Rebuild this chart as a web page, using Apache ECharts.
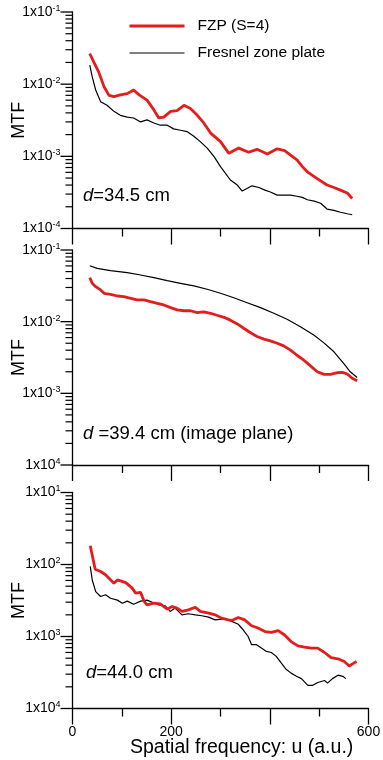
<!DOCTYPE html>
<html><head><meta charset="utf-8">
<script src="https://cdn.jsdelivr.net/npm/echarts@6/dist/echarts.min.js"></script>
<style>html,body{margin:0;padding:0;background:#fff}#c{width:383px;height:760px}</style>
</head><body><div id="c"></div>
<script>
// ---------- data ----------
const seriesNames = ['FZP (S=4)', 'Fresnel zone plate'];
const panelNotes = ['{i|d}=34.5 cm', '{i|d} =39.4 cm (image plane)', '{i|d}=44.0 cm'];
const xLabelValues = [0, 200, 600];
const yDecades = [1e-4, 1e-3, 1e-2, 1e-1];
const yExpPanel1 = ['-4', '-3', '-2', '-1'];
const yExpPanel2 = ['4', '-3', '-2', '-1'];
const yExpPanel3 = ['4', '3', '2', '1'];

// d = 34.5 cm
const fzpD345 = [[35,0.0266],[43,0.0204],[53,0.0148],[64,0.0092],[74,0.0070],[84,0.0067],[97,0.0071],[111,0.0074],[124,0.0083],[135,0.0071],[151,0.0060],[165,0.0044],[175,0.0034],[185,0.0035],[199,0.0042],[212,0.0043],[226,0.0051],[239,0.0046],[253,0.0037],[266,0.0029],[280,0.0021],[300,0.0016],[317,0.0011],[337,0.0013],[357,0.00114],[374,0.00125],[395,0.00108],[415,0.00127],[430,0.0012],[442,0.00104],[455,0.00089],[466,0.00072],[476,0.00061],[496,0.00049],[516,0.00040],[530,0.00037],[543,0.00034],[557,0.00031],[567,0.00026]];
const fresnelD345 = [[35,0.0183],[40,0.0126],[47,0.0083],[57,0.0057],[70,0.0051],[84,0.0042],[97,0.0037],[111,0.0035],[124,0.0034],[138,0.0030],[151,0.0032],[165,0.0029],[178,0.0027],[192,0.0027],[205,0.0024],[219,0.0023],[232,0.0022],[246,0.0019],[259,0.0016],[273,0.0013],[287,0.00099],[300,0.00072],[320,0.00047],[334,0.00040],[344,0.00033],[364,0.00039],[378,0.00037],[390,0.00034],[401,0.00032],[415,0.00029],[428,0.00029],[442,0.00029],[455,0.00028],[466,0.00027],[476,0.00025],[490,0.00024],[503,0.000224],[516,0.000186],[530,0.000178],[543,0.000168],[557,0.00016],[567,0.000155]];

// d = 39.4 cm (image plane)
const fzpD394 = [[35,0.0411],[40,0.0343],[47,0.0308],[57,0.0277],[64,0.0249],[77,0.0241],[91,0.0228],[104,0.0223],[118,0.0212],[131,0.0201],[145,0.0201],[158,0.0190],[172,0.0180],[185,0.0171],[199,0.0157],[212,0.0146],[226,0.0142],[239,0.0142],[253,0.0134],[266,0.0137],[280,0.0131],[293,0.0123],[307,0.0115],[320,0.0105],[334,0.0093],[347,0.0081],[361,0.0070],[374,0.0062],[388,0.0057],[401,0.0054],[415,0.0050],[428,0.0046],[442,0.0040],[455,0.0034],[469,0.0029],[483,0.0024],[496,0.0020],[510,0.00184],[523,0.00184],[537,0.00194],[547,0.00196],[557,0.00186],[567,0.00162],[577,0.00150]];
const fresnelD394 = [[35,0.0604],[50,0.0555],[77,0.0515],[111,0.0483],[138,0.0448],[165,0.0411],[192,0.0373],[219,0.0343],[246,0.0315],[273,0.0283],[300,0.0249],[327,0.0216],[354,0.0184],[381,0.0157],[408,0.0131],[435,0.0108],[462,0.0085],[489,0.0065],[509,0.0051],[530,0.0038],[550,0.0026],[563,0.0020],[577,0.00166]];

// d = 44.0 cm
const fzpD440 = [[36,0.0182],[46,0.0086],[57,0.0080],[67,0.0072],[84,0.0055],[91,0.0061],[108,0.0056],[121,0.0047],[128,0.0040],[138,0.0041],[145,0.0031],[151,0.00275],[165,0.0029],[178,0.00284],[192,0.0024],[202,0.0026],[212,0.00248],[222,0.00223],[235,0.00234],[249,0.00255],[259,0.00223],[276,0.00211],[289,0.0020],[302,0.0018],[316,0.0017],[323,0.00167],[336,0.00184],[349,0.0017],[363,0.00141],[376,0.00131],[390,0.00117],[403,0.00114],[417,0.00121],[430,0.00105],[443,0.00085],[457,0.00074],[470,0.00071],[484,0.00069],[497,0.00069],[511,0.00060],[524,0.00051],[538,0.00049],[551,0.00045],[561,0.00039],[571,0.00043],[576,0.00045]];
const fresnelD440 = [[36,0.0094],[40,0.0061],[47,0.0042],[57,0.0036],[67,0.0038],[77,0.0034],[91,0.0032],[101,0.0029],[111,0.0031],[124,0.0028],[138,0.0031],[151,0.0032],[161,0.0030],[175,0.00275],[188,0.00267],[198,0.00223],[208,0.00248],[222,0.0020],[235,0.00207],[249,0.0020],[262,0.00194],[276,0.00186],[289,0.0017],[302,0.00174],[309,0.00176],[323,0.00162],[336,0.00148],[346,0.00124],[356,0.0010],[363,0.00077],[373,0.00077],[383,0.00069],[393,0.00062],[403,0.0006],[413,0.00053],[423,0.00043],[433,0.00035],[443,0.00031],[454,0.00028],[464,0.00026],[477,0.00021],[487,0.00021],[497,0.00023],[511,0.000245],[517,0.000225],[527,0.00026],[538,0.00029],[548,0.00028],[554,0.00026]];

// ---------- chart ----------
const FONT = '"Liberation Sans", Arial, sans-serif';
const RED = '#e41c1c';
const panels = [
  {top: 12, height: 216.5, exps: yExpPanel1, fzp: fzpD345, fresnel: fresnelD345, noteTop: 186, noteLeft: 83},
  {top: 250, height: 215, exps: yExpPanel2, fzp: fzpD394, fresnel: fresnelD394, noteTop: 424, noteLeft: 83},
  {top: 492.5, height: 216, exps: yExpPanel3, fzp: fzpD440, fresnel: fresnelD440, noteTop: 663, noteLeft: 86}
];
// log-axis tick positions (decades and the 2..9 sub-decade marks)
const majorTicks = yDecades.map(v => [0, v]);
const minorTicks = [];
for (let e = -4; e < -1; e++) for (let k = 2; k <= 9; k++) minorTicks.push([0, +(k * Math.pow(10, e)).toPrecision(3)]);

function tickSeries(i, data, len, w) {
  return {
    type: 'custom', xAxisIndex: i, yAxisIndex: i, data: data, silent: true, clip: false, z: 5,
    renderItem: (params, api) => {
      const p = api.coord([api.value(0), api.value(1)]);
      return {type: 'line', shape: {x1: p[0] - len, y1: p[1], x2: p[0], y2: p[1]},
        style: {stroke: '#000', lineWidth: w}};
    }
  };
}

const grid = [], xAxis = [], yAxis = [], series = [], title = [];
panels.forEach((p, i) => {
  grid.push({left: 72.5, width: 296, top: p.top, height: p.height, outerBoundsMode: 'none', containLabel: false});
  xAxis.push({
    type: 'value', gridIndex: i, min: 0, max: 600, interval: 200,
    axisLine: {show: true, onZero: false, lineStyle: {color: '#000', width: 1.3}},
    axisTick: {show: true, length: 16, lineStyle: {color: '#000', width: 1.3}},
    minorTick: {show: true, splitNumber: 2, length: 8, lineStyle: {color: '#000', width: 1.3}},
    splitLine: {show: false},
    axisLabel: {show: i === 2, customValues: xLabelValues, margin: 17, color: '#000', fontFamily: FONT, fontSize: 14}
  });
  const exps = p.exps;
  yAxis.push({
    type: 'log', gridIndex: i, min: 1e-4, max: 1e-1, logBase: 10, position: 'left',
    name: 'MTF', nameLocation: 'middle', nameGap: 44, nameMoveOverlap: false,
    nameTextStyle: {fontFamily: FONT, fontSize: 18, color: '#000'},
    axisLine: {show: true, onZero: false, lineStyle: {color: '#000', width: 1.3}},
    axisTick: {show: false},
    splitLine: {show: false},
    axisLabel: {
      customValues: yDecades, margin: 12, color: '#000', fontFamily: FONT, fontSize: 14,
      formatter: v => '1x10{s|' + exps[Math.round(Math.log10(v)) + 4] + '}',
      rich: {s: {fontSize: 9, fontFamily: FONT, color: '#000', verticalAlign: 'top', padding: [0, 0, 7, 0]}}
    }
  });
  series.push({
    name: seriesNames[0], type: 'line', xAxisIndex: i, yAxisIndex: i, data: p.fzp,
    symbol: 'none', lineStyle: {color: RED, width: 2.8}, itemStyle: {color: RED}, z: 3
  });
  series.push({
    name: seriesNames[1], type: 'line', xAxisIndex: i, yAxisIndex: i, data: p.fresnel,
    symbol: 'none', lineStyle: {color: '#000', width: 1.2}, itemStyle: {color: '#000'}, z: 2
  });
  series.push(tickSeries(i, majorTicks, 12, 1.3));
  series.push(tickSeries(i, minorTicks, 7, 1.2));
  title.push({
    text: panelNotes[i], left: p.noteLeft, top: p.noteTop, padding: 0,
    textStyle: {fontFamily: FONT, fontSize: 18.5, fontWeight: 'normal', color: '#000',
      rich: {i: {fontFamily: FONT, fontSize: 18.5, fontStyle: 'italic', color: '#000'}}}
  });
});
title.push({
  text: 'Spatial frequency: u (a.u.)', left: 130, top: 738, padding: 0,
  textStyle: {fontFamily: FONT, fontSize: 19.5, fontWeight: 'normal', color: '#000'}
});

const chart = echarts.init(document.getElementById('c'), null, {renderer: 'canvas'});
chart.setOption({
  animation: false,
  backgroundColor: '#fff',
  title: title,
  legend: {
    data: [
      {name: seriesNames[0], lineStyle: {color: RED, width: 3}},
      {name: seriesNames[1], lineStyle: {color: '#000', width: 1.2}}
    ],
    orient: 'vertical', left: 128, top: 18, padding: 0,
    itemWidth: 55, itemHeight: 14, itemGap: 11,
    itemStyle: {opacity: 0},
    textStyle: {fontFamily: FONT, fontSize: 15.5, color: '#000', padding: [0, 0, 0, 8]}
  },
  grid: grid, xAxis: xAxis, yAxis: yAxis, series: series
});
</script></body></html>
